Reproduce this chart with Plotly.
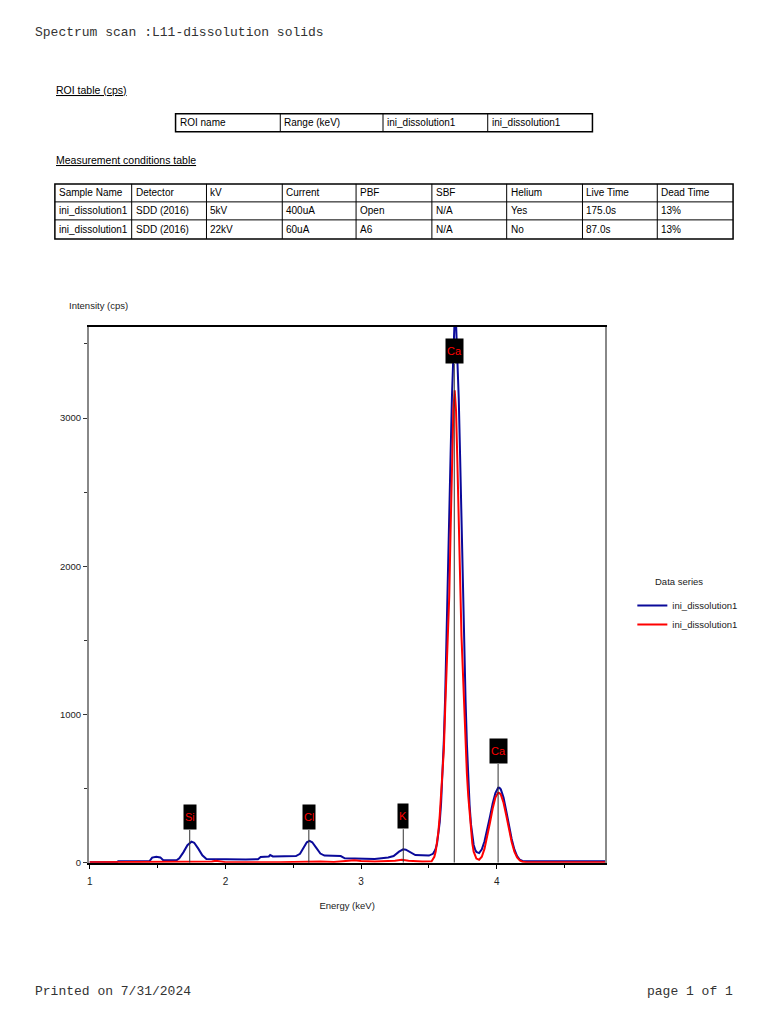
import plotly.graph_objects as go

PAGE_W, PAGE_H = 768, 1024
BODY = 8  # default page margin around the plot div
W, H = PAGE_W - 2 * BODY, PAGE_H - 2 * BODY - 6
V_SCALE, V_OFF = 0.9948, -0.8  # measured vertical mapping of the photographed page
SANS = "Liberation Sans, Arial, sans-serif"
MONO = "Liberation Mono, Courier New, DejaVu Sans Mono, monospace"

# ---------------- data ----------------
title_text = "Spectrum scan :L11-dissolution solids"
footer_left = "Printed on 7/31/2024"
footer_right = "page 1 of 1"

roi_columns = ["ROI name", "Range (keV)", "ini_dissolution1", "ini_dissolution1"]

meas_columns = ["Sample Name", "Detector", "kV", "Current", "PBF", "SBF", "Helium", "Live Time", "Dead Time"]
meas_row1 = ["ini_dissolution1", "SDD (2016)", "5kV", "400uA", "Open", "N/A", "Yes", "175.0s", "13%"]
meas_row2 = ["ini_dissolution1", "SDD (2016)", "22kV", "60uA", "A6", "N/A", "No", "87.0s", "13%"]

series_names = ["ini_dissolution1", "ini_dissolution1"]

# series 1 (5 kV, blue)
blue_energy = [1.00, 1.20, 1.21, 1.44, 1.46, 1.49, 1.52, 1.54, 1.64, 1.66, 1.69, 1.72, 1.75, 1.77,
               1.80, 1.83, 1.86, 1.95, 2.05, 2.15, 2.24, 2.26, 2.32, 2.33, 2.35, 2.45, 2.52, 2.55,
               2.58, 2.60, 2.62, 2.64, 2.67, 2.70, 2.73, 2.85, 2.88, 3.00, 3.10, 3.20, 3.24, 3.28,
               3.31, 3.33, 3.36, 3.40, 3.50, 3.53, 3.54, 3.55, 3.56, 3.57, 3.58, 3.59, 3.60, 3.61,
               3.62, 3.63, 3.64, 3.65, 3.66, 3.67, 3.68, 3.69, 3.70, 3.71, 3.72, 3.73, 3.74, 3.75,
               3.76, 3.77, 3.78, 3.79, 3.80, 3.81, 3.82, 3.83, 3.84, 3.85, 3.87, 3.89, 3.91, 3.93,
               3.95, 3.97, 3.99, 4.01, 4.02, 4.03, 4.05, 4.07, 4.09, 4.11, 4.13, 4.15, 4.17, 4.19,
               4.22, 4.80]
blue_counts = [3, 3, 10, 10, 35, 40, 36, 18, 16, 30, 70, 118, 142, 135,
               95, 50, 25, 23, 20, 22, 23, 38, 42, 52, 42, 42, 45, 60,
               105, 138, 147, 138, 100, 62, 48, 45, 30, 28, 25, 35, 45, 75,
               90, 88, 70, 52, 48, 60, 75, 95, 130, 190, 275, 405, 585, 825,
               1125, 1490, 1900, 2330, 2760, 3150, 3460, 3680, 3640, 3440, 3130, 2740, 2300, 1870,
               1460, 1100, 800, 560, 385, 260, 175, 120, 90, 72, 65, 90, 145, 220,
               310, 400, 470, 505, 505, 495, 440, 350, 250, 160, 90, 45, 20, 12,
               10, 10]

# series 2 (22 kV, red)
red_energy = [1.00, 1.88, 1.90, 1.93, 1.96, 2.00, 2.40, 2.55, 2.60, 2.70, 2.80, 2.85, 2.95, 3.00,
              3.10, 3.25, 3.30, 3.35, 3.45, 3.52, 3.54, 3.55, 3.56, 3.57, 3.58, 3.59, 3.60, 3.61,
              3.62, 3.63, 3.64, 3.65, 3.66, 3.67, 3.68, 3.69, 3.70, 3.71, 3.72, 3.73, 3.74, 3.75,
              3.76, 3.77, 3.78, 3.79, 3.80, 3.81, 3.82, 3.83, 3.84, 3.85, 3.87, 3.89, 3.91, 3.93,
              3.95, 3.97, 3.99, 4.01, 4.02, 4.03, 4.05, 4.07, 4.09, 4.11, 4.13, 4.15, 4.17, 4.19,
              4.22, 4.80]
red_counts = [3, 3, 8, 14, 8, 4, 4, 5, 10, 8, 5, 10, 16, 12,
              8, 14, 20, 14, 8, 10, 40, 75, 130, 210, 320, 450, 600, 760,
              1040, 1300, 1530, 1800, 2250, 2700, 3050, 3187, 3050, 2700, 2250, 1800, 1530, 1300,
              1040, 760, 600, 450, 320, 210, 130, 75, 45, 28, 20, 40, 95, 175,
              270, 365, 440, 473, 470, 460, 405, 320, 225, 140, 75, 35, 15, 7,
              4, 4]

# element markers
label_names = ["Si", "Cl", "K", "Ca", "Ca"]
label_energy = [1.737, 2.615, 3.311, 3.687, 4.010]
label_box_bottom = [221, 221, 226, 3365, 666]

x_ticks = [1, 2, 3, 4]
x_minor = [1.5, 2.5, 3.5, 4.5]
y_ticks = [0, 1000, 2000, 3000]
y_minor = [500, 1500, 2500, 3500]

# ---------------- layout geometry (page pixels) ----------------
ROI_X = [174, 279, 382, 487, 592]
ROI_Y = [113, 131]
MEAS_X = [53, 130, 205, 281, 355, 431, 506, 582, 657, 733]
MEAS_Y = [183, 201, 219, 238]


def px(x):
    return (x - BODY) / W


def py(y):
    y_adj = (y - V_OFF) / V_SCALE
    return 1 - (y_adj - BODY) / H


fig = go.Figure()

# spectra
fig.add_trace(go.Scatter(x=blue_energy, y=blue_counts, mode="lines", name=series_names[0],
                         line=dict(color="#0a0a9a", width=2), xaxis="x", yaxis="y"))
fig.add_trace(go.Scatter(x=red_energy, y=red_counts, mode="lines", name=series_names[1],
                         line=dict(color="#ff0000", width=2), xaxis="x", yaxis="y"))

shapes = []
annotations = []


def add_table(xs, ys, rows):
    shapes.append(dict(type="rect", xref="paper", yref="paper",
                       x0=px(xs[0]), x1=px(xs[-1]), y0=py(ys[-1]), y1=py(ys[0]),
                       line=dict(color="black", width=1.5), fillcolor="rgba(0,0,0,0)"))
    for xv in xs[1:-1]:
        shapes.append(dict(type="line", xref="paper", yref="paper",
                           x0=px(xv), x1=px(xv), y0=py(ys[-1]), y1=py(ys[0]),
                           line=dict(color="black", width=1)))
    for yv in ys[1:-1]:
        shapes.append(dict(type="line", xref="paper", yref="paper",
                           x0=px(xs[0]), x1=px(xs[-1]), y0=py(yv), y1=py(yv),
                           line=dict(color="black", width=1)))
    for r, row in enumerate(rows):
        yc = (ys[r] + ys[r + 1]) / 2
        for c, txt in enumerate(row):
            annotations.append(dict(x=px(xs[c] + 2), y=py(yc), xref="paper", yref="paper",
                                    text=txt, showarrow=False, xanchor="left",
                                    yanchor="middle",
                                    font=dict(family=SANS, size=10, color="black")))


add_table(ROI_X, ROI_Y, [roi_columns])
add_table(MEAS_X, MEAS_Y, [meas_columns, meas_row1, meas_row2])

# element marker lines and labels
for name, e, b in zip(label_names, label_energy, label_box_bottom):
    shapes.append(dict(type="line", xref="x", yref="y", x0=e, x1=e, y0=0, y1=b,
                       line=dict(color="#333333", width=1)))
    annotations.append(dict(x=e, y=b, xref="x", yref="y", text=name, showarrow=False,
                            xanchor="center", yanchor="bottom", bgcolor="black",
                            height=22, borderpad=1,
                            font=dict(family=SANS, size=11, color="#ff0000")))

annotations += [
    dict(x=px(31), y=py(32), xref="paper", yref="paper", text=title_text, showarrow=False,
         xanchor="left", yanchor="middle", font=dict(family=MONO, size=13, color="#333333")),
    dict(x=px(52), y=py(89), xref="paper", yref="paper", text="<u>ROI table (cps)</u>",
         showarrow=False, xanchor="left", yanchor="middle",
         font=dict(family=SANS, size=10.5, color="black")),
    dict(x=px(52), y=py(159), xref="paper", yref="paper",
         text="<u>Measurement conditions table</u>", showarrow=False,
         xanchor="left", yanchor="middle", font=dict(family=SANS, size=10.5, color="black")),
    dict(x=px(65), y=py(305), xref="paper", yref="paper", text="Intensity (cps)",
         showarrow=False, xanchor="left", yanchor="middle",
         font=dict(family=SANS, size=9.5, color="#222222")),
    dict(x=px(679), y=py(581), xref="paper", yref="paper", text="Data series",
         showarrow=False, xanchor="center", yanchor="middle",
         font=dict(family=SANS, size=9.5, color="#222222")),
    dict(x=px(31), y=py(990), xref="paper", yref="paper", text=footer_left, showarrow=False,
         xanchor="left", yanchor="middle", font=dict(family=MONO, size=13, color="#333333")),
    dict(x=px(735), y=py(990), xref="paper", yref="paper", text=footer_right, showarrow=False,
         xanchor="right", yanchor="middle", font=dict(family=MONO, size=13, color="#333333")),
]

fig.update_layout(
    width=W, height=H,
    margin=dict(l=0, r=0, t=0, b=0),
    paper_bgcolor="white", plot_bgcolor="white",
    showlegend=True,
    legend=dict(x=px(632), y=py(590), xanchor="left", yanchor="top",
                font=dict(family=SANS, size=9.5, color="#222222"),
                bgcolor="rgba(0,0,0,0)", tracegroupgap=0),
    xaxis=dict(domain=[px(87), px(605)], range=[0.993, 4.801], anchor="y",
               tickvals=x_ticks, ticktext=[str(v) for v in x_ticks],
               ticks="outside", ticklen=5, tickcolor="black", tickwidth=1,
               ticklabelstandoff=4,
               minor=dict(tickvals=x_minor, ticks="outside", ticklen=4, tickcolor="black"),
               showline=True, linecolor="black", linewidth=1.5, mirror=True,
               showgrid=False, zeroline=False,
               title=dict(text="Energy (keV)", standoff=16,
                          font=dict(family=SANS, size=9.5, color="#222222")),
               tickfont=dict(family=SANS, size=10, color="#222222")),
    yaxis=dict(domain=[py(861.7), py(325.7)], range=[0, 3617], anchor="x",
               tickvals=y_ticks, ticktext=[str(v) for v in y_ticks],
               ticks="outside", ticklen=4, tickcolor="#333333", tickwidth=1,
               minor=dict(tickvals=y_minor, ticks="outside", ticklen=3, tickcolor="#333333"),
               showline=True, linecolor="#888888", linewidth=1.5, mirror=True,
               showgrid=False, zeroline=False,
               tickfont=dict(family=SANS, size=9.5, color="#222222")),
    shapes=shapes,
    annotations=annotations,
)

fig.write_html("out.html")
